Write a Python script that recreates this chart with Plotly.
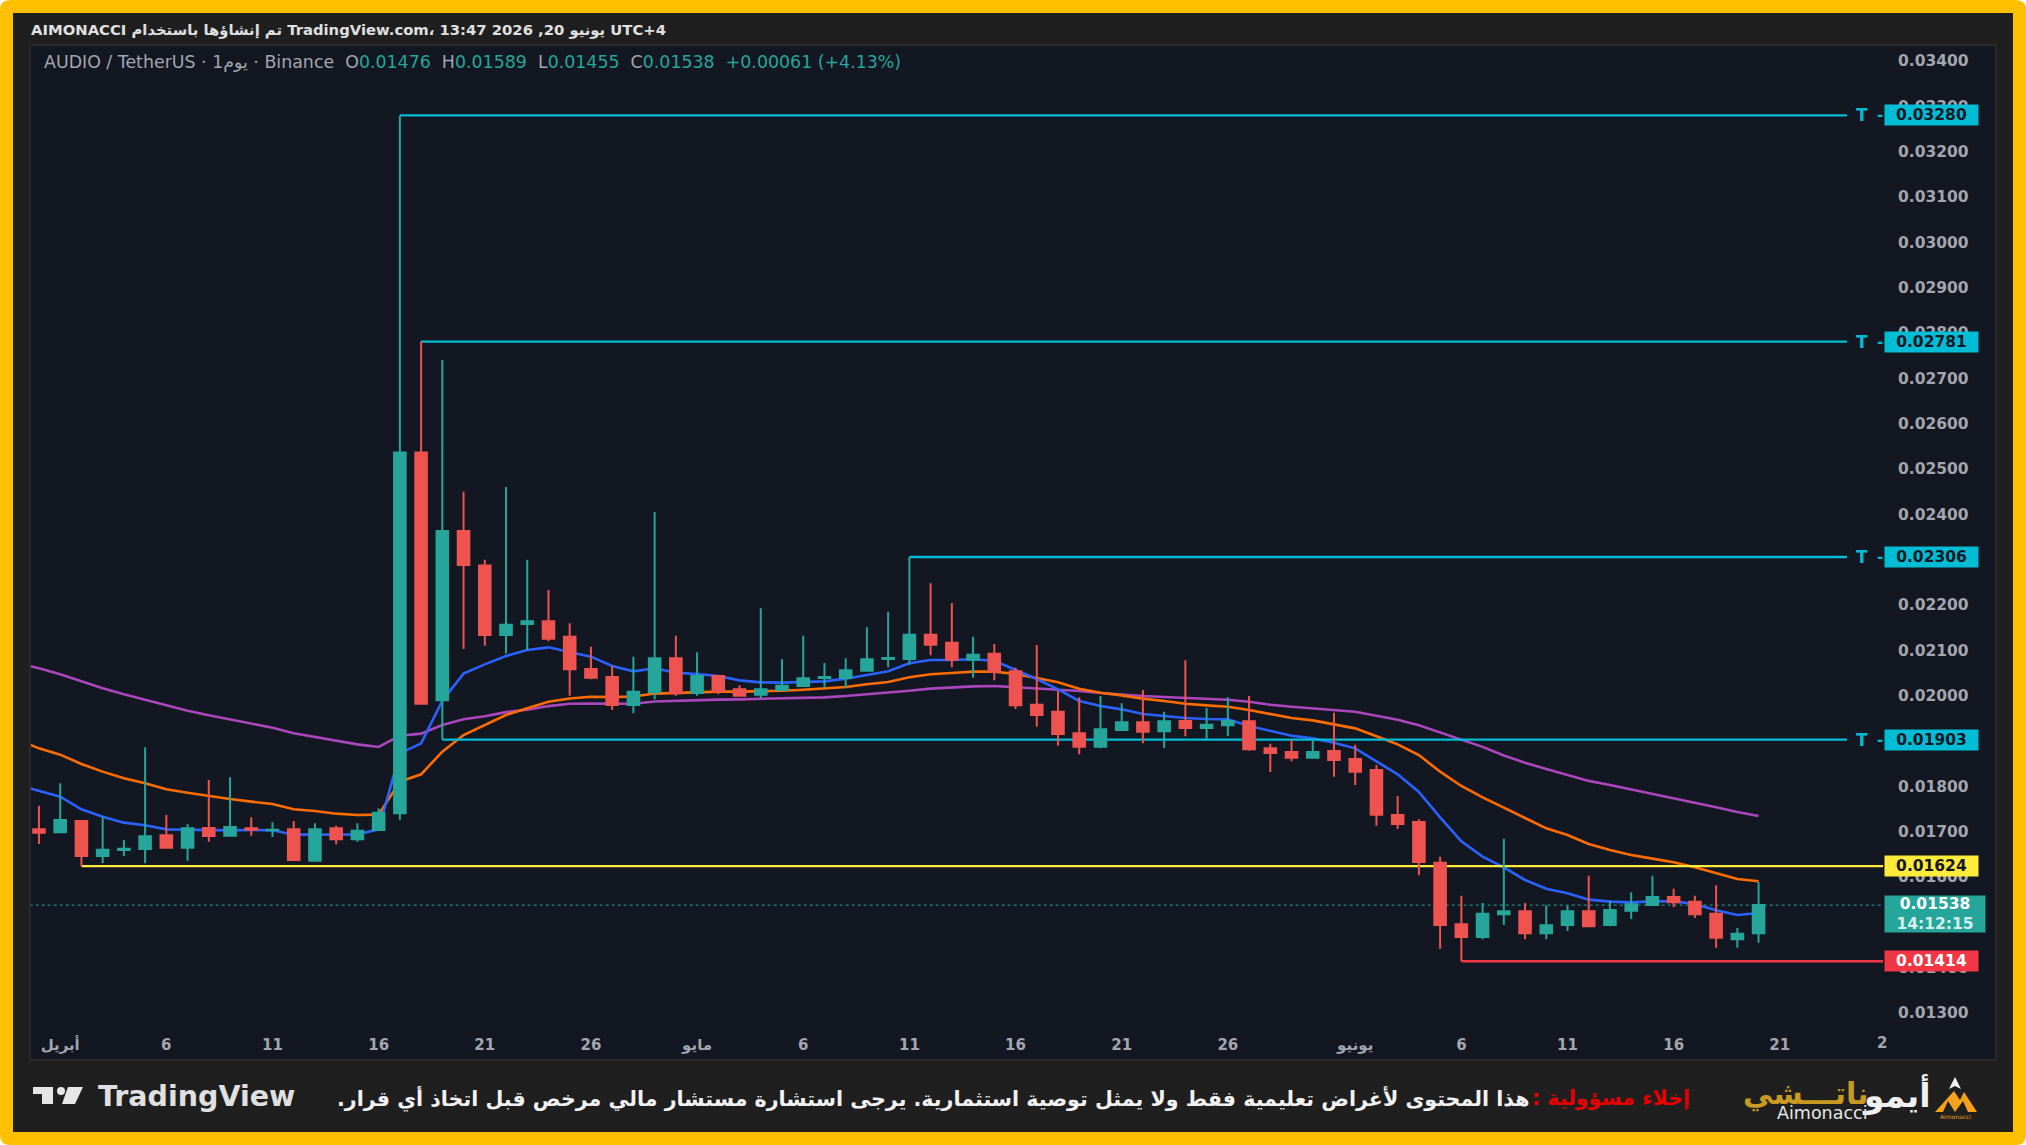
import pandas as pd
import plotly.graph_objects as go

# daily candles, 31 March to 20 June
dates = pd.date_range('2026-03-31', periods=82, freq='D')
opens = [.017051, .016985, .017235, .016463, .016596, .016618, .016919, .016647, .017081, .016912,
         .017074, .01703, .017051, .01636, .017074, .016831, .017037, .017404, .025363, .019898,
         .02363, .02287, .021336, .021582, .021641, .0213, .020588, .020412, .019794, .020074,
         .020824, .020059, .020434, .02014, .020022, .020125, .020213, .02039, .02039, .020552,
         .020809, .020809, .021346, .021169, .020794, .020927, .020536, .019801, .019647, .019169,
         .018875, .019242, .019411, .019213, .019441, .019286, .019345, .019434, .018838, .018757,
         .018632, .018779, .018603, .01836, .017367, .017214, .016316, .014956, .014677, .015177,
         .015243, .014758, .014941, .015243, .014941, .015258, .015383, .015559, .015456, .015191,
         .014625, .01476]
closes = [.016978, .017257, .016463, .016603, .016625, .016897, .016647, .017074, .016904, .017103,
          .017044, .017044, .016375, .017051, .016831, .017022, .017419, .025363, .019819, .02363,
          .022882, .021336, .021562, .021641, .021257, .020581, .020397, .019794, .020088, .020824,
          .020052, .020434, .020103, .02, .02014, .020221, .020382, .020412, .020559, .020802,
          .020831, .021346, .021125, .020794, .020905, .02053, .019786, .019573, .019154, .018875,
          .019257, .019411, .019206, .019434, .019286, .01936, .019441, .018816, .018735, .018632,
          .018757, .018581, .018323, .017375, .017169, .016331, .014941, .014677, .015191, .015243,
          .014758, .014934, .015243, .014912, .015272, .015397, .015559, .015441, .015177, .01466,
          .01475, .01538]
highs = [.017574, .018066, .017235, .017331, .016816, .01886, .017368, .017162, .01814, .018199,
         .017316, .017206, .017235, .017184, .017132, .017184, .017515, .0328, .02781, .027402,
         .024497, .023, .024605, .023, .02233, .021596, .021081, .020662, .02086, .024054,
         .021324, .020956, .020434, .020228, .021927, .020802, .021324, .020721, .020824, .021508,
         .021853, .02306, .022478, .022037, .021302, .02114, .020617, .021117, .02011, .019963,
         .019992, .019831, .020125, .019647, .020779, .019728, .019963, .019992, .018941, .019022,
         .019022, .019625, .018919, .01847, .017786, .017272, .016449, .015588, .015427, .016846,
         .015427, .015375, .01536, .01603, .015478, .015662, .01603, .015743, .015588, .015816,
         .014875, .01589]
lows = [.016728, .016963, .01624, .016301, .016463, .016301, .016647, .01636, .016779, .016912,
        .016912, .016882, .01636, .01636, .016721, .016779, .017015, .017257, .019819, .01903,
        .02103, .0211, .020932, .021, .021198, .02, .02036, .019684, .01961, .019919,
        .02, .02, .02003, .02, .019941, .020125, .020213, .020162, .020162, .020552,
        .020625, .020684, .02089, .020625, .020397, .020338, .019706, .019316, .018897, .018706,
        .018838, .019242, .018948, .018845, .019103, .019044, .01911, .018786, .018316, .018551,
        .018632, .018213, .018029, .017132, .017058, .016037, .014419, .01414, .014625, .014941,
        .014625, .014625, .014809, .014912, .014912, .015074, .015361, .015331, .015096, .014441,
        .014441, .01455]

# moving averages start one day earlier, the chart cuts that day off
ema_dates = pd.date_range('2026-03-30', periods=83, freq='D')
ema_blue = [.018029, .017904, .017772, .017493, .017331, .017199, .01714, .017051, .017044, .017029,
            .017029, .017037, .017029, .016934, .016934, .016941, .016941, .017051, .018728, .018948,
            .01989, .020485, .020691, .020875, .021007, .021066, .020956, .02086, .020655, .020537,
            .020603, .020507, .020478, .020434, .020338, .020294, .020287, .020302, .020316, .020375,
            .020456, .020537, .020713, .020787, .020787, .020802, .020768, .020566, .020367, .020139,
            .019882, .019772, .019698, .019595, .019551, .019507, .019485, .019478, .019331, .019228,
            .019117, .019058, .018963, .018838, .018558, .018264, .017875, .017316, .016787, .016449,
            .016214, .015934, .015743, .01564, .0155, .015456, .015441, .015463, .015463, .015405,
            .015265, .015162, .015206]
ema_orange = [.019022, .018838, .018699, .018493, .018324, .018177, .018066, .017934, .01786, .017787,
              .017721, .017662, .01761, .017493, .017456, .017397, .017368, .017375, .018103, .018265,
              .018765, .019132, .019353, .019574, .01972, .019868, .019937, .019977, .019967, .019982,
              .020046, .020065, .020081, .020088, .020088, .020096, .02011, .020132, .020155, .020191,
              .02025, .020302, .020405, .020471, .0205, .02053, .02053, .020478, .020389, .020294,
              .020154, .020066, .020007, .019934, .019882, .019823, .019786, .019757, .019684, .019588,
              .019507, .019455, .019375, .019279, .019103, .018926, .01869, .018323, .018008, .017758,
              .01753, .017294, .017074, .016927, .016728, .016596, .016486, .016405, .016324, .016214,
              .016081, .015956, .015905]
ema_purple = [.020713, .020603, .020471, .020309, .020162, .020029, .019904, .019779, .019669, .019566,
              .01947, .019382, .019294, .019169, .019088, .018993, .018926, .018868, .019118, .019162,
              .019353, .019478, .019544, .019637, .019691, .01977, .01982, .019825, .019822, .019822,
              .01987, .019888, .019904, .019912, .019919, .019927, .019934, .019949, .019963, .019993,
              .02003, .020059, .02011, .020155, .020184, .020206, .020213, .020184, .020161, .020139,
              .020103, .020059, .020022, .019992, .01997, .019948, .019926, .019911, .019867, .019801,
              .019757, .01972, .019691, .019647, .019558, .01947, .019345, .01919, .01902, .01887,
              .01868, .01852, .01838, .01825, .01812, .01803, .017934, .017839, .017743, .017647,
              .017537, .017434, .017346]

# horizontal levels drawn on the chart
target_prices = [0.0328, 0.02781, 0.02306, 0.01903]
target_starts = ['2026-04-17', '2026-04-18', '2026-05-11', '2026-04-19']
support_price = 0.01414
support_start = '2026-06-06'
resist_price = 0.01624
resist_start = '2026-04-02'
last_price = 0.01538

tick_prices = [0.034 - i * 0.001 for i in range(22)]
tick_dates = ['2026-04-01', '2026-04-06', '2026-04-11', '2026-04-16', '2026-04-21', '2026-04-26',
              '2026-05-01', '2026-05-06', '2026-05-11', '2026-05-16', '2026-05-21', '2026-05-26',
              '2026-06-01', '2026-06-06', '2026-06-11', '2026-06-16', '2026-06-21']
tick_names = ['أبريل', '6', '11', '16', '21', '26', 'مايو', '6', '11', '16', '21', '26',
              'يونيو', '6', '11', '16', '21']

W, H = 2026, 1145
GREEN = '#26a69a'
RED = '#ef5350'
CYAN = '#00bcd4'
TEXT = '#a3a6ae'
FRAME = '#1f1f1f'
PANE = '#131722'


def px(x):
    return x / W


def py(y):
    return 1 - y / H


def rect(x0, y0, x1, y1, fill, line=None, layer='below'):
    return dict(type='rect', xref='paper', yref='paper', x0=px(x0), x1=px(x1), y0=py(y0), y1=py(y1),
                fillcolor=fill, line=dict(color=line or fill, width=2 if line else 0), layer=layer)


def poly(points, fill):
    path = 'M ' + ' L '.join(f'{px(x):.5f} {py(y):.5f}' for x, y in points) + ' Z'
    return dict(type='path', xref='paper', yref='paper', path=path, fillcolor=fill, line_width=0, layer='above')


def label(x, y, text, size, color, anchor='left', family='DejaVu Sans', yref='paper'):
    return dict(xref='paper', yref=yref, x=px(x), y=py(y) if yref == 'paper' else y, text=text, showarrow=False,
                xanchor=anchor, yanchor='middle', font=dict(size=size, color=color, family=family))


def tag(price, text, fill, color, width=93):
    return dict(xref='paper', yref='y', x=px(1884), y=price, text=f'<b>{text}</b>', showarrow=False, xanchor='left',
                yanchor='middle', width=width, height=20, bgcolor=fill, borderpad=0, align='center',
                font=dict(size=15.5, color=color, family='DejaVu Sans'))


fig = go.Figure()

# moving averages and level lines sit under the candles
for values, color in [(ema_purple, '#ab47bc'), (ema_orange, '#ff6d00'), (ema_blue, '#2962ff')]:
    fig.add_trace(go.Scatter(x=ema_dates, y=values, mode='lines', line=dict(color=color, width=2.6),
                             showlegend=False, hoverinfo='skip'))

for price, start in zip(target_prices, target_starts):
    fig.add_trace(go.Scatter(x=[start, '2026-06-24 04:00'], y=[price, price], mode='lines',
                             line=dict(color=CYAN, width=2.4), showlegend=False, hoverinfo='skip'))
fig.add_trace(go.Scatter(x=[resist_start, '2026-06-26'], y=[resist_price, resist_price], mode='lines',
                         line=dict(color='#ffeb3b', width=2.4), showlegend=False, hoverinfo='skip'))
fig.add_trace(go.Scatter(x=[support_start, '2026-06-26'], y=[support_price, support_price], mode='lines',
                         line=dict(color='#f23645', width=2.4), showlegend=False, hoverinfo='skip'))
fig.add_trace(go.Scatter(x=['2026-03-30', '2026-06-26'], y=[last_price, last_price], mode='lines',
                         line=dict(color=GREEN, width=1, dash='dot'), showlegend=False, hoverinfo='skip'))

fig.add_trace(go.Candlestick(x=dates, open=opens, high=highs, low=lows, close=closes, zorder=1,
                             increasing=dict(line=dict(color=GREEN, width=2), fillcolor=GREEN),
                             decreasing=dict(line=dict(color=RED, width=2), fillcolor=RED),
                             showlegend=False, hoverinfo='skip'))

shapes = [
    # yellow frame with rounded corners, dark card and chart pane
    dict(type='path', xref='paper', yref='paper', layer='below', fillcolor='#ffc000', line_width=0,
         path=f'M {px(10)} 1 L {px(W - 10)} 1 Q 1 1 1 {py(10)} L 1 {py(H - 10)} Q 1 0 {px(W - 10)} 0 '
              f'L {px(10)} 0 Q 0 0 0 {py(H - 10)} L 0 {py(10)} Q 0 1 {px(10)} 1 Z'),
    rect(13, 13, 2013, 1132, FRAME),
    rect(30, 45, 1996, 1060, PANE, line='#2a2a2a'),
    # TradingView mark
    poly([(33, 1087), (53, 1087), (53, 1104), (42, 1104), (42, 1094), (33, 1094)], '#e6e6e6'),
    poly([(68, 1087), (83, 1087), (75, 1104), (62, 1104)], '#e6e6e6'),
    dict(type='circle', xref='paper', yref='paper', x0=px(57), x1=px(65), y0=py(1087), y1=py(1095),
         fillcolor='#e6e6e6', line_width=0, layer='above'),
    # Aimonacci mark
    poly([(1935, 1112), (1954, 1091), (1960, 1100), (1964, 1092), (1977, 1112), (1968, 1112),
          (1963, 1101), (1955, 1112), (1948, 1101), (1943, 1112)], '#f5a11c'),
    poly([(1955, 1077), (1961, 1089), (1955, 1086), (1949, 1089)], '#f2f2f2'),
]

header = '<b>AIMONACCI تم إنشاؤها باستخدام TradingView.com، 13:47 2026 ,20 يونيو UTC+4</b>'
value = '<span style="color:#26a69a">%s</span>'
legend_line = ('AUDIO / TetherUS · 1يوم · Binance  O' + value % '0.01476' + '  H' + value % '0.01589'
               + '  L' + value % '0.01455' + '  C' + value % '0.01538' + '  ' + value % '+0.00061 (+4.13%)')

annotations = [
    label(29, 30, header, 14.8, '#e0e0e0'),
    label(42, 62, legend_line, 17.4, TEXT),
    label(1875, 1043, '<b>2</b>', 15, TEXT),
    label(1692, 1098, '<b>إخلاء مسؤولية :\u200f</b>', 20.5, '#e60000', anchor='right'),
    label(1531, 1098, '<b>هذا المحتوى لأغراض تعليمية فقط ولا يمثل توصية استثمارية. يرجى استشارة مستشار مالي مرخص قبل اتخاذ أي قرار.\u200f</b>',
          20.6, '#f2f2f2', anchor='right'),
    label(96, 1096, '<b>TradingView</b>', 28.5, '#e0e0e0'),
    label(1933, 1095, '<b>أيمو</b>', 33, '#f0f0f0', anchor='right'),
    label(1870, 1094, '<b>ناتـــشي</b>', 30, '#c99a22', anchor='right'),
    label(1775, 1113, 'Aimonacci', 17.5, '#e6e6e6'),
    label(1955, 1116, 'Aimonacci', 6, '#f5a11c', anchor='center'),
]
for price in target_prices:
    annotations.append(label(1862, price, '<b>T</b>', 17, CYAN, anchor='center', yref='y'))
    annotations.append(label(1880, price, '<b>-</b>', 15, CYAN, anchor='center', yref='y'))
    annotations.append(tag(price, f'{price:.5f}', CYAN, '#131722'))
annotations.append(tag(resist_price, f'{resist_price:.5f}', '#ffeb3b', '#131722'))
annotations.append(tag(support_price, f'{support_price:.5f}', '#f23645', '#ffffff'))
annotations.append(dict(xref='paper', yref='paper', x=px(1884), y=py(914),
                        text=f'<b>{last_price:.5f}<br><span style="color:#d5eeeb">14:12:15</span></b>',
                        showarrow=False, xanchor='left', yanchor='middle', width=100, height=36, bgcolor=GREEN,
                        borderpad=0, align='center', font=dict(size=15.5, color='#ffffff', family='DejaVu Sans')))

fig.update_layout(
    width=W, height=H, margin=dict(l=0, r=0, t=0, b=0),
    paper_bgcolor='#ffffff', plot_bgcolor='rgba(0,0,0,0)',
    font=dict(family='DejaVu Sans', color=TEXT),
    boxgap=0.22, shapes=shapes, annotations=annotations,
    xaxis=dict(domain=[px(31), px(1883)], range=['2026-03-30 15:00', '2026-06-25 20:40'], type='date',
               rangeslider=dict(visible=False), showgrid=False, zeroline=False, showline=False,
               tickmode='array', tickvals=tick_dates, ticktext=[f'<b>{n}</b>' for n in tick_names], ticks='',
               tickfont=dict(size=15, color=TEXT), ticklabelstandoff=6),
    yaxis=dict(domain=[py(1028), py(45)], range=[0.012669, 0.034353], side='right', showgrid=False,
               zeroline=False, showline=False, tickmode='array', tickvals=tick_prices,
               ticktext=[f'<b>{p:.5f}</b>' for p in tick_prices], ticks='',
               tickfont=dict(size=15.5, color=TEXT), ticklabelstandoff=14),
)

fig.write_html('out.html', config=dict(displayModeBar=False),
               post_script="document.body.style.margin='0';document.body.style.overflow='hidden';")
